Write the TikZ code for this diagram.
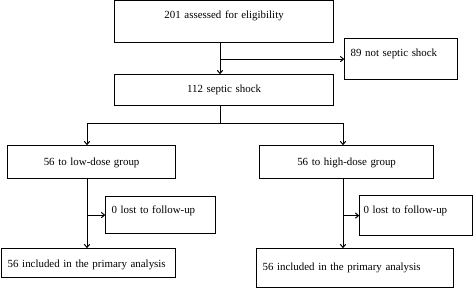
\documentclass[tikz,border=0pt]{standalone}
\usepackage{fontspec}
\setmainfont{Liberation Serif}
\usetikzlibrary{arrows.meta}

\begin{document}
\begin{tikzpicture}[
    x=1pt, y=1pt,
    font=\fontsize{10.9}{13}\selectfont,
    box/.style={draw, line width=1.2pt, inner ysep=0pt, anchor=north west},
    arrow/.style={-{To[length=4pt,width=6pt]}, line width=1pt},
    line/.style={line width=1pt}
  ]
    \useasboundingbox (0,0) rectangle (473,288);

    \node[box, inner xsep=0pt, text width=219, align=center, text height=17.5, text depth=24.5] (elig) at (114,288) {201 assessed for eligibility};
    \node[box, inner xsep=6pt, text width=101, align=left, text height=17.5, text depth=23.5] (notsep) at (344,250) {89 not septic shock};
    \node[box, inner xsep=0pt, text width=219, align=center, text height=17.5, text depth=13.5] (septic) at (114,214) {112 septic shock};

    \node[box, inner xsep=0pt, text width=168, align=center, text height=19.5, text depth=13.5] (low) at (7,143) {56 to low-dose group};
    \node[box, inner xsep=0pt, text width=174, align=center, text height=19.5, text depth=13.5] (high) at (259,143) {56 to high-dose group};

    \node[box, inner xsep=6pt, text width=98, align=left, text height=16.5, text depth=20.5] (lostL) at (105,92) {0 lost to follow-up};
    \node[box, inner xsep=4pt, text width=105, align=left, text height=17.5, text depth=22.5] (lostR) at (359,93) {0 lost to follow-up};

    \node[box, inner xsep=6.5pt, text width=161, align=left, text height=18.5, text depth=10.5] (inclL) at (0.6,40) {56 included in the primary analysis};
    \node[box, inner xsep=6pt, text width=185, align=left, text height=21.5, text depth=18] (inclR) at (256,40) {56 included in the primary analysis};

    % trunk and branch points
    \coordinate (mx) at (220,0);
    \coordinate (lx) at (87,0);
    \coordinate (rx) at (343,0);
    \coordinate (split) at (220,164);

    \draw[arrow] (elig.south -| mx) -- (septic.north -| mx);
    \draw[arrow] (mx |- notsep.west) -- (notsep.west);
    \draw[line] (septic.south -| mx) -- (split);
    \draw[arrow] (split) -| (low.north -| lx);
    \draw[arrow] (split) -| (high.north -| rx);

    \draw[arrow] (low.south -| lx) -- (inclL.north -| lx);
    \draw[arrow] (lx |- lostL.west) -- (lostL.west);
    \draw[arrow] (high.south -| rx) -- (inclR.north -| rx);
    \draw[arrow] (rx |- lostR.west) -- (lostR.west);
\end{tikzpicture}
\end{document}
